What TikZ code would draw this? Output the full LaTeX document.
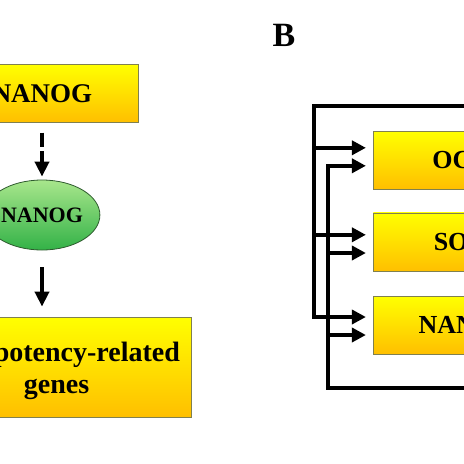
\documentclass[tikz,border=0pt]{standalone}
\usepackage{fontspec}
\setmainfont{Liberation Serif}
\usetikzlibrary{arrows.meta,shapes.geometric}
\definecolor{boxtop}{HTML}{FFFF00}
\definecolor{boxmid}{HTML}{FFE600}
\definecolor{boxbot}{HTML}{FFBF00}
\definecolor{boxline}{HTML}{80804F}
\definecolor{elltop}{HTML}{A8E68C}
\definecolor{ellmid}{HTML}{55C84D}
\definecolor{ellbot}{HTML}{33B247}
\definecolor{ellline}{HTML}{2E5A2E}
\tikzset{
  ybox/.style={rectangle, draw=boxline, line width=0.8pt, top color=boxtop, middle color=boxmid, bottom color=boxbot, inner sep=0pt, font=\bfseries\fontsize{26}{30}\selectfont},
  gell/.style={ellipse, draw=ellline, line width=0.8pt, top color=elltop, middle color=ellmid, bottom color=ellbot, inner sep=0pt, font=\bfseries\fontsize{22}{24}\selectfont},
  arrL/.style={line width=4.6pt, -{Triangle[length=15pt,width=14pt]}},
  arrR/.style={line width=4.3pt, line join=miter, -{Triangle[length=14pt,width=14pt]}, shorten >=7pt},
}
\begin{document}
\begin{tikzpicture}[x=1pt,y=-1pt]
\useasboundingbox (0,0) rectangle (464,464);
\clip (0,0) rectangle (464,464);
% panel A
\node[ybox, minimum width=192pt, minimum height=58pt, font=\bfseries\fontsize{27}{30}\selectfont] (top) at (42,93.5) {NANOG};
\node[gell, minimum width=103pt, minimum height=70pt] (ell) at (42,215) {NANOG};
\node[ybox, minimum width=270pt, minimum height=100pt, align=center, font=\bfseries\fontsize{28}{32}\selectfont] (genes) at (56.5,367) {\rule{0pt}{27pt}Pluripotency-related\\genes};
\draw[arrL, dash pattern=on 14pt off 4.5pt, shorten <=9.7pt, shorten >=3pt] (top.south -| ell.north) -- (ell.north);
\draw[arrL, shorten <=17pt, shorten >=10pt] (ell.south) -- (ell.south |- genes.north);
% panel B
\node[font=\bfseries\fontsize{34}{38}\selectfont, inner sep=0pt] (B) at (284,35) {B};
\node[ybox, minimum width=187.4pt, minimum height=57.3pt] (oct) at (467,160.3) {OCT4};
\node[ybox, minimum width=187.4pt, minimum height=58.7pt] (sox) at (467,242.3) {SOX2};
\node[ybox, minimum width=187.4pt, minimum height=57.6pt] (nan) at (467,325.5) {NANOG};
\coordinate (a1) at ([yshift=12.5pt]oct.west);
\coordinate (b1) at ([yshift=-5.5pt]oct.west);
\coordinate (a2) at ([yshift=7.5pt]sox.west);
\coordinate (b2) at ([yshift=-10.7pt]sox.west);
\coordinate (a3) at ([yshift=8.5pt]nan.west);
\coordinate (b3) at ([yshift=-9.5pt]nan.west);
\coordinate (L) at (313.7,0);
\coordinate (M) at (328,0);
\coordinate (o1) at (490,106.3);
\coordinate (o2) at (490,388);
\draw[arrR] (o1) -- (o1 -| L) -- (L |- a3) -- (a3);
\draw[arrR] (L |- a1) -- (a1);
\draw[arrR] (L |- a2) -- (a2);
\draw[arrR] (o2) -- (o2 -| M) -- (M |- b1) -- (b1);
\draw[arrR] (M |- b2) -- (b2);
\draw[arrR] (M |- b3) -- (b3);
\end{tikzpicture}
\end{document}
